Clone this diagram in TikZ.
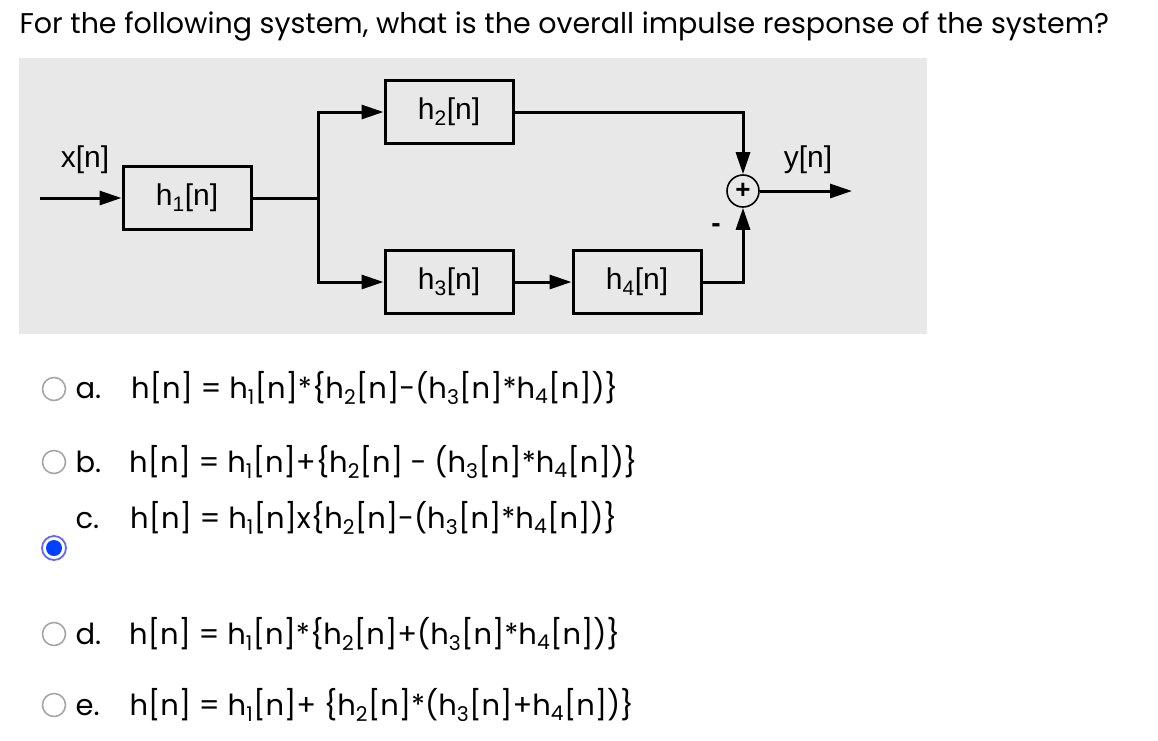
\documentclass[tikz,border=0pt]{standalone}
\usepackage{fontspec}
\setmainfont{Poppins}
\newfontfamily\arialf{Liberation Sans}
\usetikzlibrary{arrows.meta}
\begin{document}
\begin{tikzpicture}[x=1pt,y=-1pt,
 blk/.style={draw,line width=3pt,minimum width=128pt,minimum height=63pt,inner sep=0pt,font=\arialf\fontsize{30}{30}\selectfont},
 ln/.style={line width=3pt},
 ar/.style={ln,-{Triangle[length=22pt,width=14pt]}},
 opt/.style={anchor=base west,font=\fontsize{29}{29}\selectfont},
 rad/.style={circle,draw=gray!70,line width=1.6pt,minimum size=23pt,inner sep=0pt},
 lbl/.style={font=\arialf\fontsize{30}{30}\selectfont}]
\useasboundingbox (0,0) rectangle (1158,740);
\fill[white] (0,0) rectangle (1158,740);
\fill[gray!18] (19,58) rectangle (927,334);
\node[anchor=base west,font=\fontsize{28.5}{28}\selectfont] (title) at (16,33) {For the following system, what is the overall impulse response of the system?};
\node[blk] (h1) at (187,198) {h\textsubscript{1}[n]};
\node[blk] (h2) at (449,112) {h\textsubscript{2}[n]};
\node[blk] (h3) at (449,282) {h\textsubscript{3}[n]};
\node[blk] (h4) at (637,282) {h\textsubscript{4}[n]};
\node[circle,draw,line width=1.6pt,minimum size=32pt,inner sep=0pt,font=\arialf\bfseries\fontsize{26}{26}\selectfont] (sum) at (743,191) {+};
\coordinate (in) at (40,198);
\coordinate (out) at (852,191);
\coordinate (br) at (318,198);
\node[lbl] (xl) at (85,160) {x[n]};
\node[lbl] (yl) at (808,160) {y[n]};
\node[font=\arialf\bfseries\fontsize{28}{28}\selectfont] (mn) at (716,228) {-};
\draw[ar] (in) -- (h1);
\draw[ln] (h1) -- (br);
\draw[ar] (br) |- (h2);
\draw[ar] (br) |- (h3);
\draw[ar] (h3) -- (h4);
\draw[ar] (h2.east) -| (sum.north);
\draw[ar] (h4.east) -| (sum.south);
\draw[ar] (sum) -- (out);
\node[rad] (ra) at (54,389) {};
\node[rad] (rb) at (54,462) {};
\node[circle,draw=blue!60,line width=1.8pt,minimum size=24pt,inner sep=0pt] (rc) at (54,548) {};
\fill[blue!75!cyan] (rc) circle (8pt);
\node[rad] (rd) at (54,634) {};
\node[rad] (re) at (54,705) {};
\node[opt] (ta) at (72,398) {a.\hspace{30pt}h[n] = h\textsubscript{1}[n]*\{h\textsubscript{2}[n]-(h\textsubscript{3}[n]*h\textsubscript{4}[n])\}};
\node[opt] (tb) at (72,472) {b.\hspace{28pt}h[n] = h\textsubscript{1}[n]+\{h\textsubscript{2}[n] - (h\textsubscript{3}[n]*h\textsubscript{4}[n])\}};
\node[opt] (tc) at (72,528) {c.\hspace{31pt}h[n] = h\textsubscript{1}[n]x\{h\textsubscript{2}[n]-(h\textsubscript{3}[n]*h\textsubscript{4}[n])\}};
\node[opt] (td) at (72,644) {d.\hspace{28pt}h[n] = h\textsubscript{1}[n]*\{h\textsubscript{2}[n]+(h\textsubscript{3}[n]*h\textsubscript{4}[n])\}};
\node[opt] (te) at (72,715) {e.\hspace{30pt}h[n] = h\textsubscript{1}[n]+ \{h\textsubscript{2}[n]*(h\textsubscript{3}[n]+h\textsubscript{4}[n])\}};
\end{tikzpicture}
\end{document}
